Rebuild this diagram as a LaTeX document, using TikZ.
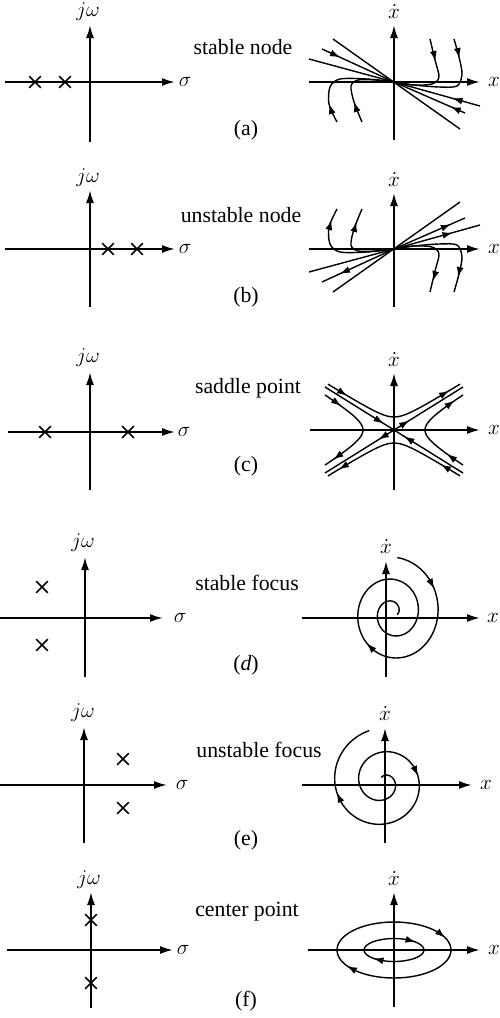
\documentclass[tikz,border=0pt]{standalone}
\usepackage{fontspec}
\setmainfont{Liberation Serif}
\usetikzlibrary{arrows.meta,decorations.markings,shapes.misc}

\tikzset{
  axis/.style={line width=1.1pt, -{Latex[length=2.6mm,width=1.6mm]}},
  traj/.style={line width=0.8pt},
  flow/.style={postaction={decorate, decoration={markings,
      mark=at position #1 with {\arrow{Latex[length=2mm,width=1.4mm]}}}}},
  tip/.style={line width=0.8pt, -{Latex[length=2mm,width=1.4mm]}},
  pole/.style={cross out, draw, line width=0.9pt, minimum size=2mm, inner sep=0pt},
  lbl/.style={font=\fontsize{12.4}{14}\selectfont},
  sym/.style={font=\fontsize{12}{14}\selectfont, inner sep=1pt},
}

\begin{document}
\begin{tikzpicture}[x=0.02cm, y=-0.02cm]
    \useasboundingbox (0,0) rectangle (500,1018);

    % Titles and captions
    \node[lbl] (ta) at (243,47) {stable node};
    \node[lbl] (tb) at (241,215) {unstable node};
    \node[lbl] (tc) at (248,388) {saddle point};
    \node[lbl] (td) at (247,583) {stable focus};
    \node[lbl] (te) at (259,750) {unstable focus};
    \node[lbl] (tf) at (247,912) {center point};
    \node[lbl] (ca) at (246,130) {(a)};
    \node[lbl] (cb) at (246,297) {(b)};
    \node[lbl] (cc) at (246,466) {(c)};
    \node[lbl] (cd) at (246,665) {(\textit{d})};
    \node[lbl] (ce) at (246,840) {(e)};
    \node[lbl] (cf) at (246,1001) {(f)};

    % s-plane (a): two real negative poles
    \begin{scope}[shift={(90,82)}]
        \draw[axis] (-85,0) -- (85,0);
        \draw[axis] (0,60) -- (0,-57);
        \node[sym] (sigA) at (95,0) {$\sigma$};
        \node[sym] (jwA) at (-2,-70) {$j\omega$};
        \node[pole] (pA1) at (-55,0) {};
        \node[pole] (pA2) at (-25,0) {};
    \end{scope}

    % phase plane (a): stable node
    \begin{scope}[shift={(394,82)}]
        \draw[axis] (-85,0) -- (86,0);
        \draw[axis] (0,58) -- (0,-57);
        \node[sym] (xA) at (100,0) {$x$};
        \node[sym] (xdA) at (0,-71) {$\dot{x}$};
        % straight lines through the origin
        \draw[traj] (-61,-43) -- (66,47);
        \draw[traj, flow=0.25] (-72,-33) -- (0,0);
        \draw[traj, flow=0.2] (71,31) -- (0,0);
        \draw[traj] (-85,-23) -- (0,0);
        \draw[traj, flow=0.32] (86,24) -- (0,0);
        % curved trajectories
        \draw[traj] plot[smooth] coordinates {(36,-43) (41,-22) (45,-5) (38,2) (20,3) (0,0)};
        \draw[traj] plot[smooth] coordinates {(60,-43) (65,-25) (68,-8) (63,4) (45,5) (20,3) (0,0)};
        \draw[traj] plot[smooth] coordinates {(-57,40) (-65,22) (-64,5) (-54,-3) (-27,-3) (0,0)};
        \draw[traj] plot[smooth] coordinates {(-32,40) (-40,20) (-43,4) (-36,-2) (-18,-2) (0,0)};
        \draw[tip] (39.5,-30) -- (41.5,-21);
        \draw[tip] (63.5,-33) -- (65.5,-24);
        \draw[tip] (-62,31) -- (-65,22);
        \draw[tip] (-37,29) -- (-40,20);
    \end{scope}

    % s-plane (b): two real positive poles
    \begin{scope}[shift={(90,249)}]
        \draw[axis] (-85,0) -- (85,0);
        \draw[axis] (0,58) -- (0,-59);
        \node[sym] (sigB) at (95,0) {$\sigma$};
        \node[sym] (jwB) at (-2,-71) {$j\omega$};
        \node[pole] (pB1) at (18,0) {};
        \node[pole] (pB2) at (47,0) {};
    \end{scope}

    % phase plane (b): unstable node (mirror of (a), flow reversed)
    \begin{scope}[shift={(394,249)}]
        \draw[axis] (-85,0) -- (86,0);
        \draw[axis] (0,58) -- (0,-56);
        \node[sym] (xB) at (100,0) {$x$};
        \node[sym] (xdB) at (0,-70) {$\dot{x}$};
        \begin{scope}[yscale=-1]
            \draw[traj] (-61,-43) -- (66,47);
            \draw[traj, flow=0.75] (0,0) -- (-72,-33);
            \draw[traj, flow=0.8] (0,0) -- (71,31);
            \draw[traj] (0,0) -- (-85,-23);
            \draw[traj, flow=0.68] (0,0) -- (86,24);
            \draw[traj] plot[smooth] coordinates {(0,0) (20,3) (38,2) (45,-5) (41,-22) (36,-43)};
            \draw[traj] plot[smooth] coordinates {(0,0) (20,3) (45,5) (63,4) (68,-8) (65,-25) (60,-43)};
            \draw[traj] plot[smooth] coordinates {(0,0) (-27,-3) (-54,-3) (-64,5) (-65,22) (-57,40)};
            \draw[traj] plot[smooth] coordinates {(0,0) (-18,-2) (-36,-2) (-43,4) (-40,20) (-32,40)};
            \draw[tip] (41.5,-23) -- (39,-32);
            \draw[tip] (66,-19) -- (64,-28);
            \draw[tip] (-65,20) -- (-62.5,29);
            \draw[tip] (-40,18) -- (-37.5,27);
        \end{scope}
    \end{scope}

    % s-plane (c): one negative, one positive pole
    \begin{scope}[shift={(90,432)}]
        \draw[axis] (-82,0) -- (85,0);
        \draw[axis] (0,58) -- (0,-60);
        \node[sym] (sigC) at (94,0) {$\sigma$};
        \node[sym] (jwC) at (-2,-74) {$j\omega$};
        \node[pole] (pC1) at (-45,0) {};
        \node[pole] (pC2) at (38,0) {};
    \end{scope}

    % phase plane (c): saddle point
    \begin{scope}[shift={(394,430)}]
        \draw[axis] (-84,0) -- (86,0);
        \draw[axis] (0,60) -- (0,-57);
        \node[sym] (xC) at (100,0) {$x$};
        \node[sym] (xdC) at (0,-71) {$\dot{x}$};
        % asymptotes: stable in, unstable out
        \draw[traj, flow=0.85] (-69,-43) -- (0,0);
        \draw[traj, flow=0.85] (69,43) -- (0,0);
        \draw[traj, flow=0.22] (0,0) -- (69,-43);
        \draw[traj, flow=0.22] (0,0) -- (-69,43);
        % hyperbolic trajectories
        \draw[traj] plot[domain=-66:66, smooth, samples=31] (\x, {-(4+sqrt(81+0.384*\x*\x))});
        \draw[traj] plot[domain=-66:66, smooth, samples=31] (\x, {4+sqrt(81+0.384*\x*\x)});
        \draw[traj] plot[domain=-35:35, smooth, samples=31] ({-(8+sqrt(529+2.6*\x*\x))}, \x);
        \draw[traj] plot[domain=-35:35, smooth, samples=31] ({8+sqrt(529+2.6*\x*\x)}, \x);
        \draw[tip] (-55,-39.3) -- (-47,-34.5);
        \draw[tip] (47,-34.5) -- (55,-39.3);
        \draw[tip] (55,39.3) -- (47,34.5);
        \draw[tip] (-47,34.5) -- (-55,39.3);
        \draw[tip] (-60.5,-29.5) -- (-53,-24);
        \draw[tip] (-53,24) -- (-60.5,29.5);
        \draw[tip] (60.5,29.5) -- (53,24);
        \draw[tip] (53,-24) -- (60.5,-29.5);
    \end{scope}

    % s-plane (d): complex poles, negative real part
    \begin{scope}[shift={(85,618)}]
        \draw[axis] (-85,0) -- (78,0);
        \draw[axis] (0,59) -- (0,-61);
        \node[sym] (sigD) at (95,0) {$\sigma$};
        \node[sym] (jwD) at (-2,-75) {$j\omega$};
        \node[pole] (pD1) at (-43,-31) {};
        \node[pole] (pD2) at (-43,27) {};
    \end{scope}

    % phase plane (d): stable focus, clockwise inward spiral
    \begin{scope}[shift={(386,618)}]
        \draw[axis] (-84,0) -- (94,0);
        \draw[axis] (0,59) -- (0,-57);
        \node[sym] (xD) at (107,0) {$x$};
        \node[sym] (xdD) at (0,-72) {$\dot{x}$};
        \draw[traj] plot[variable=\t, domain=-85:740, samples=180, smooth]
            ({7+(45-0.055*\t)*cos(\t)}, {-5+1.12*(45-0.055*\t)*sin(\t)});
        \draw[tip] (43.2,-39) -- (48.1,-29.4);
        \draw[tip] (-13.8,30.9) -- (-19.1,25.3);
    \end{scope}

    % s-plane (e): complex poles, positive real part
    \begin{scope}[shift={(84,785)}]
        \draw[axis] (-84,0) -- (83,0);
        \draw[axis] (0,58) -- (0,-58);
        \node[sym] (sigE) at (98,0) {$\sigma$};
        \node[sym] (jwE) at (-1,-72) {$j\omega$};
        \node[pole] (pE1) at (39,-26) {};
        \node[pole] (pE2) at (39,23) {};
    \end{scope}

    % phase plane (e): unstable focus, clockwise outward spiral
    \begin{scope}[shift={(385,785)}]
        \draw[axis] (-83,0) -- (87,0);
        \draw[axis] (0,58) -- (0,-57);
        \node[sym] (xE) at (101,0) {$x$};
        \node[sym] (xdE) at (0,-72) {$\dot{x}$};
        \draw[traj] plot[variable=\t, domain=-110:615, samples=180, smooth]
            ({-2+(12+0.067*\t)*cos(\t)}, {-3+(12+0.067*\t)*sin(\t)});
        \draw[tip] (29.2,-17.5) -- (32.9,-9.2);
        \draw[tip] (-44.1,16.7) -- (-48.1,7.6);
    \end{scope}

    % s-plane (f): imaginary poles
    \begin{scope}[shift={(91,950)}]
        \draw[axis] (-84,0) -- (82,0);
        \draw[axis] (0,58) -- (0,-58);
        \node[sym] (sigF) at (92,0) {$\sigma$};
        \node[sym] (jwF) at (-2,-70) {$j\omega$};
        \node[pole] (pF1) at (0,-30) {};
        \node[pole] (pF2) at (0,33) {};
    \end{scope}

    % phase plane (f): center point
    \begin{scope}[shift={(394,950)}]
        \draw[axis] (-86,0) -- (86,0);
        \draw[axis] (0,57) -- (0,-58);
        \node[sym] (xF) at (100,0) {$x$};
        \node[sym] (xdF) at (0,-72) {$\dot{x}$};
        \draw[traj] (0,0) ellipse [x radius=57, y radius=28];
        \draw[traj] (0,0) ellipse [x radius=30, y radius=11.5];
        \draw[tip] (45,-17.3) -- (51,-12.3);
        \draw[tip] (-39,20.3) -- (-47,16);
        \draw[tip] (15,-9.8) -- (21.5,-8);
        \draw[tip] (-13,10.3) -- (-20.5,8.3);
    \end{scope}
\end{tikzpicture}
\end{document}
